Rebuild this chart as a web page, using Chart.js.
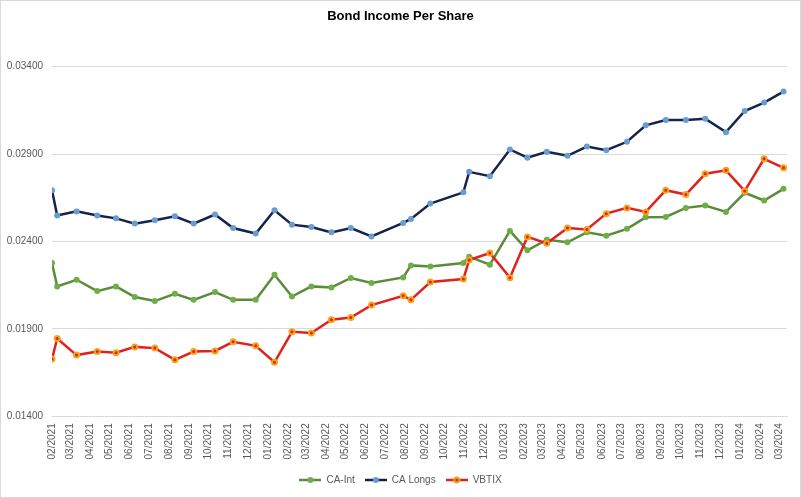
<!DOCTYPE html>
<html>
<head>
<meta charset="utf-8">
<script src="https://cdn.jsdelivr.net/npm/chart.js@4.4.0/dist/chart.umd.min.js"></script>
<style>
  html, body { margin: 0; padding: 0; background: #fff; }
  #wrap { width: 801px; height: 498px; box-sizing: border-box; border: 1px solid #d9d9d9; }
  canvas { display: block; }
</style>
</head>
<body>
<div id="wrap"><canvas id="bondChart" width="799" height="496"></canvas></div>
<script>
// Data points (payment dates)
const dates = [
    '2021-02-01', '2021-02-09', '2021-03-11', '2021-04-12', '2021-05-11', '2021-06-09',
    '2021-07-10', '2021-08-10', '2021-09-08', '2021-10-11', '2021-11-08', '2021-12-13',
    '2022-01-11', '2022-02-07', '2022-03-09', '2022-04-09', '2022-05-09', '2022-06-10',
    '2022-07-29', '2022-08-10', '2022-09-09', '2022-10-30', '2022-11-08', '2022-12-10',
    '2023-01-10', '2023-02-06', '2023-03-08', '2023-04-09', '2023-05-09', '2023-06-08',
    '2023-07-10', '2023-08-08', '2023-09-08', '2023-10-09', '2023-11-08', '2023-12-10',
    '2024-01-08', '2024-02-07', '2024-03-08'
];

const caInt = [
    0.02277, 0.02143, 0.02181, 0.02116, 0.02143, 0.02082, 0.02059, 0.02101, 0.02066, 0.02111,
    0.02066, 0.02066, 0.02210, 0.02085, 0.02143, 0.02137, 0.02191, 0.02162, 0.02194, 0.02263,
    0.02257, 0.02277, 0.02313, 0.02267, 0.02460, 0.02349, 0.02410, 0.02395, 0.02452, 0.02433,
    0.02472, 0.02538, 0.02540, 0.02592, 0.02605, 0.02569, 0.02678, 0.02634, 0.02701
];

const caLongs = [
    0.02693, 0.02548, 0.02572, 0.02548, 0.02532, 0.02502, 0.02521, 0.02544, 0.02502, 0.02554,
    0.02477, 0.02445, 0.02578, 0.02496, 0.02483, 0.02452, 0.02477, 0.02429, 0.02506, 0.02529,
    0.02617, 0.02681, 0.02798, 0.02773, 0.02926, 0.02879, 0.02913, 0.02890, 0.02943, 0.02922,
    0.02970, 0.03064, 0.03094, 0.03094, 0.03102, 0.03025, 0.03146, 0.03194, 0.03257
];

const vbtix = [
    0.01727, 0.01845, 0.01750, 0.01770, 0.01764, 0.01797, 0.01790, 0.01723, 0.01770, 0.01774,
    0.01826, 0.01803, 0.01709, 0.01883, 0.01876, 0.01952, 0.01965, 0.02036, 0.02089, 0.02066,
    0.02168, 0.02185, 0.02294, 0.02334, 0.02193, 0.02426, 0.02389, 0.02477, 0.02468, 0.02559,
    0.02592, 0.02569, 0.02693, 0.02668, 0.02787, 0.02807, 0.02689, 0.02873, 0.02821
];

const monthLabels = [
    '02/2021', '03/2021', '04/2021', '05/2021', '06/2021', '07/2021', '08/2021', '09/2021',
    '10/2021', '11/2021', '12/2021', '01/2022', '02/2022', '03/2022', '04/2022', '05/2022',
    '06/2022', '07/2022', '08/2022', '09/2022', '10/2022', '11/2022', '12/2022', '01/2023',
    '02/2023', '03/2023', '04/2023', '05/2023', '06/2023', '07/2023', '08/2023', '09/2023',
    '10/2023', '11/2023', '12/2023', '01/2024', '02/2024', '03/2024'
];

const yTicks = [0.014, 0.019, 0.024, 0.029, 0.034];

const FONT = '"Liberation Sans", Arial, sans-serif';
const DAY = 86400000;
const origin = Date.UTC(2021, 1, 1);

function dayOf(str) {
    const [y, m, d] = str.split('-').map(Number);
    return (Date.UTC(y, m - 1, d) - origin) / DAY;
}

function monthStart(label) {
    const [m, y] = label.split('/').map(Number);
    return (Date.UTC(y, m - 1, 1) - origin) / DAY;
}

function toPoints(values) {
    return values.map((v, i) => ({ x: dayOf(dates[i]), y: v }));
}

// little line+marker swatch for the legend
function legendMarker(lineColor, fill, ring) {
    const c = document.createElement('canvas');
    c.width = 22;
    c.height = 8;
    const g = c.getContext('2d');
    g.strokeStyle = lineColor;
    g.lineWidth = 2.5;
    g.beginPath();
    g.moveTo(0, 4);
    g.lineTo(22, 4);
    g.stroke();
    g.beginPath();
    g.arc(11, 4, ring ? 2.5 : 3, 0, Math.PI * 2);
    g.fillStyle = fill;
    g.fill();
    if (ring) {
        g.strokeStyle = ring;
        g.lineWidth = 2;
        g.stroke();
    }
    return c;
}

const series = [
    { label: 'CA-Int', values: caInt, line: '#5B8C3B', marker: '#70AD47', ring: null, order: 3 },
    { label: 'CA Longs', values: caLongs, line: '#14244A', marker: '#6A9BD3', ring: null, order: 2 },
    { label: 'VBTIX', values: vbtix, line: '#E0211D', marker: '#D62718', ring: '#F7A21B', order: 1 }
];

const markers = series.map(s => legendMarker(s.line, s.marker, s.ring));

const ctx = document.getElementById('bondChart').getContext('2d');

new Chart(ctx, {
    type: 'line',
    data: {
        datasets: series.map(s => ({
            label: s.label,
            data: toPoints(s.values),
            borderColor: s.line,
            backgroundColor: s.marker,
            borderWidth: 2.5,
            tension: 0,
            pointRadius: s.ring ? 2.5 : 3,
            pointBorderWidth: s.ring ? 2 : 0,
            pointBackgroundColor: s.marker,
            pointBorderColor: s.ring || s.marker,
            order: s.order
        }))
    },
    options: {
        responsive: false,
        animation: false,
        layout: {
            padding: { left: 0, right: 0, top: 0, bottom: 2 }
        },
        scales: {
            x: {
                type: 'linear',
                min: 0,
                max: 1136.4,
                afterBuildTicks: scale => {
                    scale.ticks = monthLabels.map(l => ({ value: monthStart(l) }));
                },
                afterFit: scale => {
                    scale.height = 48.7;
                },
                ticks: {
                    autoSkip: false,
                    minRotation: 90,
                    maxRotation: 90,
                    padding: 7,
                    color: '#595959',
                    font: { family: FONT, size: 10 },
                    callback: (value, index) => monthLabels[index]
                },
                grid: {
                    display: false,
                    drawTicks: false
                },
                border: {
                    display: true,
                    color: '#d9d9d9',
                    width: 1
                }
            },
            y: {
                min: 0.014,
                max: 0.034,
                afterBuildTicks: scale => {
                    scale.ticks = yTicks.map(v => ({ value: v }));
                },
                afterFit: scale => {
                    scale.width = 51;
                },
                ticks: {
                    padding: 9,
                    color: '#595959',
                    font: { family: FONT, size: 10 },
                    callback: value => value.toFixed(5)
                },
                grid: {
                    color: '#d9d9d9',
                    drawTicks: false
                },
                border: {
                    display: false
                }
            },
            // empty right-hand spacer so the plot stops short of the frame
            yRight: {
                position: 'right',
                min: 0.014,
                max: 0.034,
                afterFit: scale => {
                    scale.width = 13;
                },
                ticks: { display: false },
                grid: { display: false, drawTicks: false },
                border: { display: false }
            }
        },
        plugins: {
            title: {
                display: true,
                text: 'Bond Income Per Share',
                color: '#000000',
                font: { family: FONT, size: 13, weight: 'bold' },
                padding: { top: 8, bottom: 42 }
            },
            legend: {
                position: 'bottom',
                labels: {
                    usePointStyle: true,
                    pointStyleWidth: 22,
                    padding: 10,
                    color: '#595959',
                    font: { family: FONT, size: 10 },
                    sort: (a, b) => a.datasetIndex - b.datasetIndex,
                    generateLabels: chart => {
                        const items = Chart.defaults.plugins.legend.labels.generateLabels(chart);
                        items.forEach(item => {
                            item.pointStyle = markers[item.datasetIndex];
                        });
                        return items;
                    }
                }
            },
            tooltip: { enabled: false }
        }
    }
});
</script>
</body>
</html>
